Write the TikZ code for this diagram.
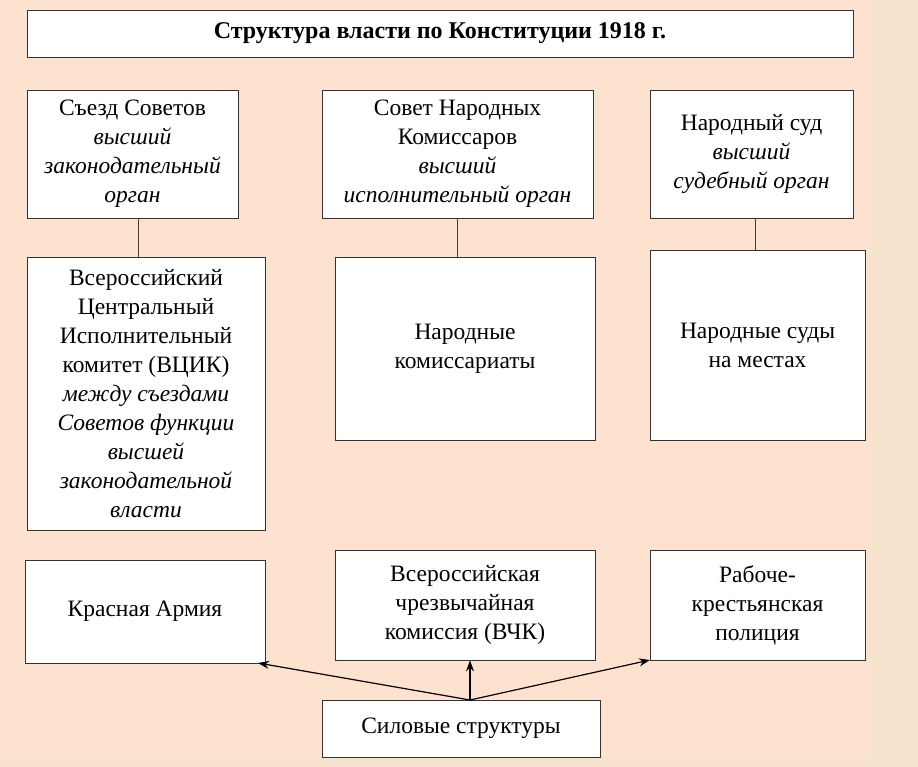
\documentclass[tikz,border=0pt]{standalone}
\usepackage{fontspec}
\setmainfont{Liberation Serif}
\usetikzlibrary{arrows.meta, positioning}
\definecolor{outerbg}{HTML}{F5E3CE}
\definecolor{innerbg}{HTML}{FDE2CF}
\begin{document}
\begin{tikzpicture}[x=1pt, y=-1pt,
    orgbox/.style={rectangle, draw=black!80, thick, fill=white, align=center, inner sep=1pt,
      font=\fontsize{23.5}{29}\selectfont},
    link/.style={draw=black!75, thick},
    arrow/.style={draw=black, line width=1.2pt, -{Stealth[length=11pt, width=8pt]}}
]
\fill[outerbg] (0,0) rectangle (918,767);
\fill[innerbg] (0,0) rectangle (872,757);

% Title
\node[orgbox, minimum width=826pt, minimum height=47pt, font=\fontsize{24}{27}\selectfont\bfseries]
  (title) at (440,33.5) {Структура власти по Конституции 1918 г.};

% Top row
\node[orgbox, minimum width=211pt, minimum height=128pt] (congress) at (132.5,154)
  {Съезд Советов\\\textit{высший}\\\textit{законодательный}\\\textit{орган}};
\node[orgbox, minimum width=271pt, minimum height=128pt] (sovnarkom) at (457.5,154)
  {Совет Народных\\Комиссаров\\\textit{высший}\\\textit{исполнительный орган}};
\node[orgbox, minimum width=203pt, minimum height=128pt] (court) at (751.5,154)
  {Народный суд\\\textit{высший}\\\textit{судебный орган}};

% Middle row
\node[orgbox, minimum width=238pt, minimum height=273pt] (vcik) at (146,393.5)
  {Всероссийский\\Центральный\\Исполнительный\\комитет (ВЦИК)\\\textit{между съездами}\\\textit{Советов функции}\\\textit{высшей}\\\textit{законодательной}\\\textit{власти}};
\node[orgbox, minimum width=260pt, minimum height=183pt] (commissariats) at (465,348.5)
  {Народные\\комиссариаты};
\node[orgbox, minimum width=215pt, minimum height=190pt] (localcourts) at (757.5,345)
  {Народные суды\\на местах};

\draw[link] (congress.south -| 138,0) -- (vcik.north -| 138,0);
\draw[link] (sovnarkom.south) -- (sovnarkom.south |- commissariats.north);
\draw[link] (court.south -| 755,0) -- (localcourts.north -| 755,0);

% Bottom row
\node[orgbox, minimum width=240pt, minimum height=103pt] (army) at (145,611.5)
  {Красная Армия};
\node[orgbox, minimum width=260pt, minimum height=110pt] (vchk) at (465,605)
  {Всероссийская\\чрезвычайная\\комиссия (ВЧК)};
\node[orgbox, minimum width=215pt, minimum height=110pt] (police) at (757.5,605)
  {Рабоче-\\крестьянская\\полиция};

\node[orgbox, minimum width=278pt, minimum height=57pt] (forces) at (461,728.5)
  {Силовые структуры};

\coordinate (hub) at (470,700);
\draw[arrow] (hub) -- (vchk.south -| hub);
\draw[arrow] (hub) -- (258,663);
\draw[arrow] (hub) -- (650,660);
\end{tikzpicture}
\end{document}
